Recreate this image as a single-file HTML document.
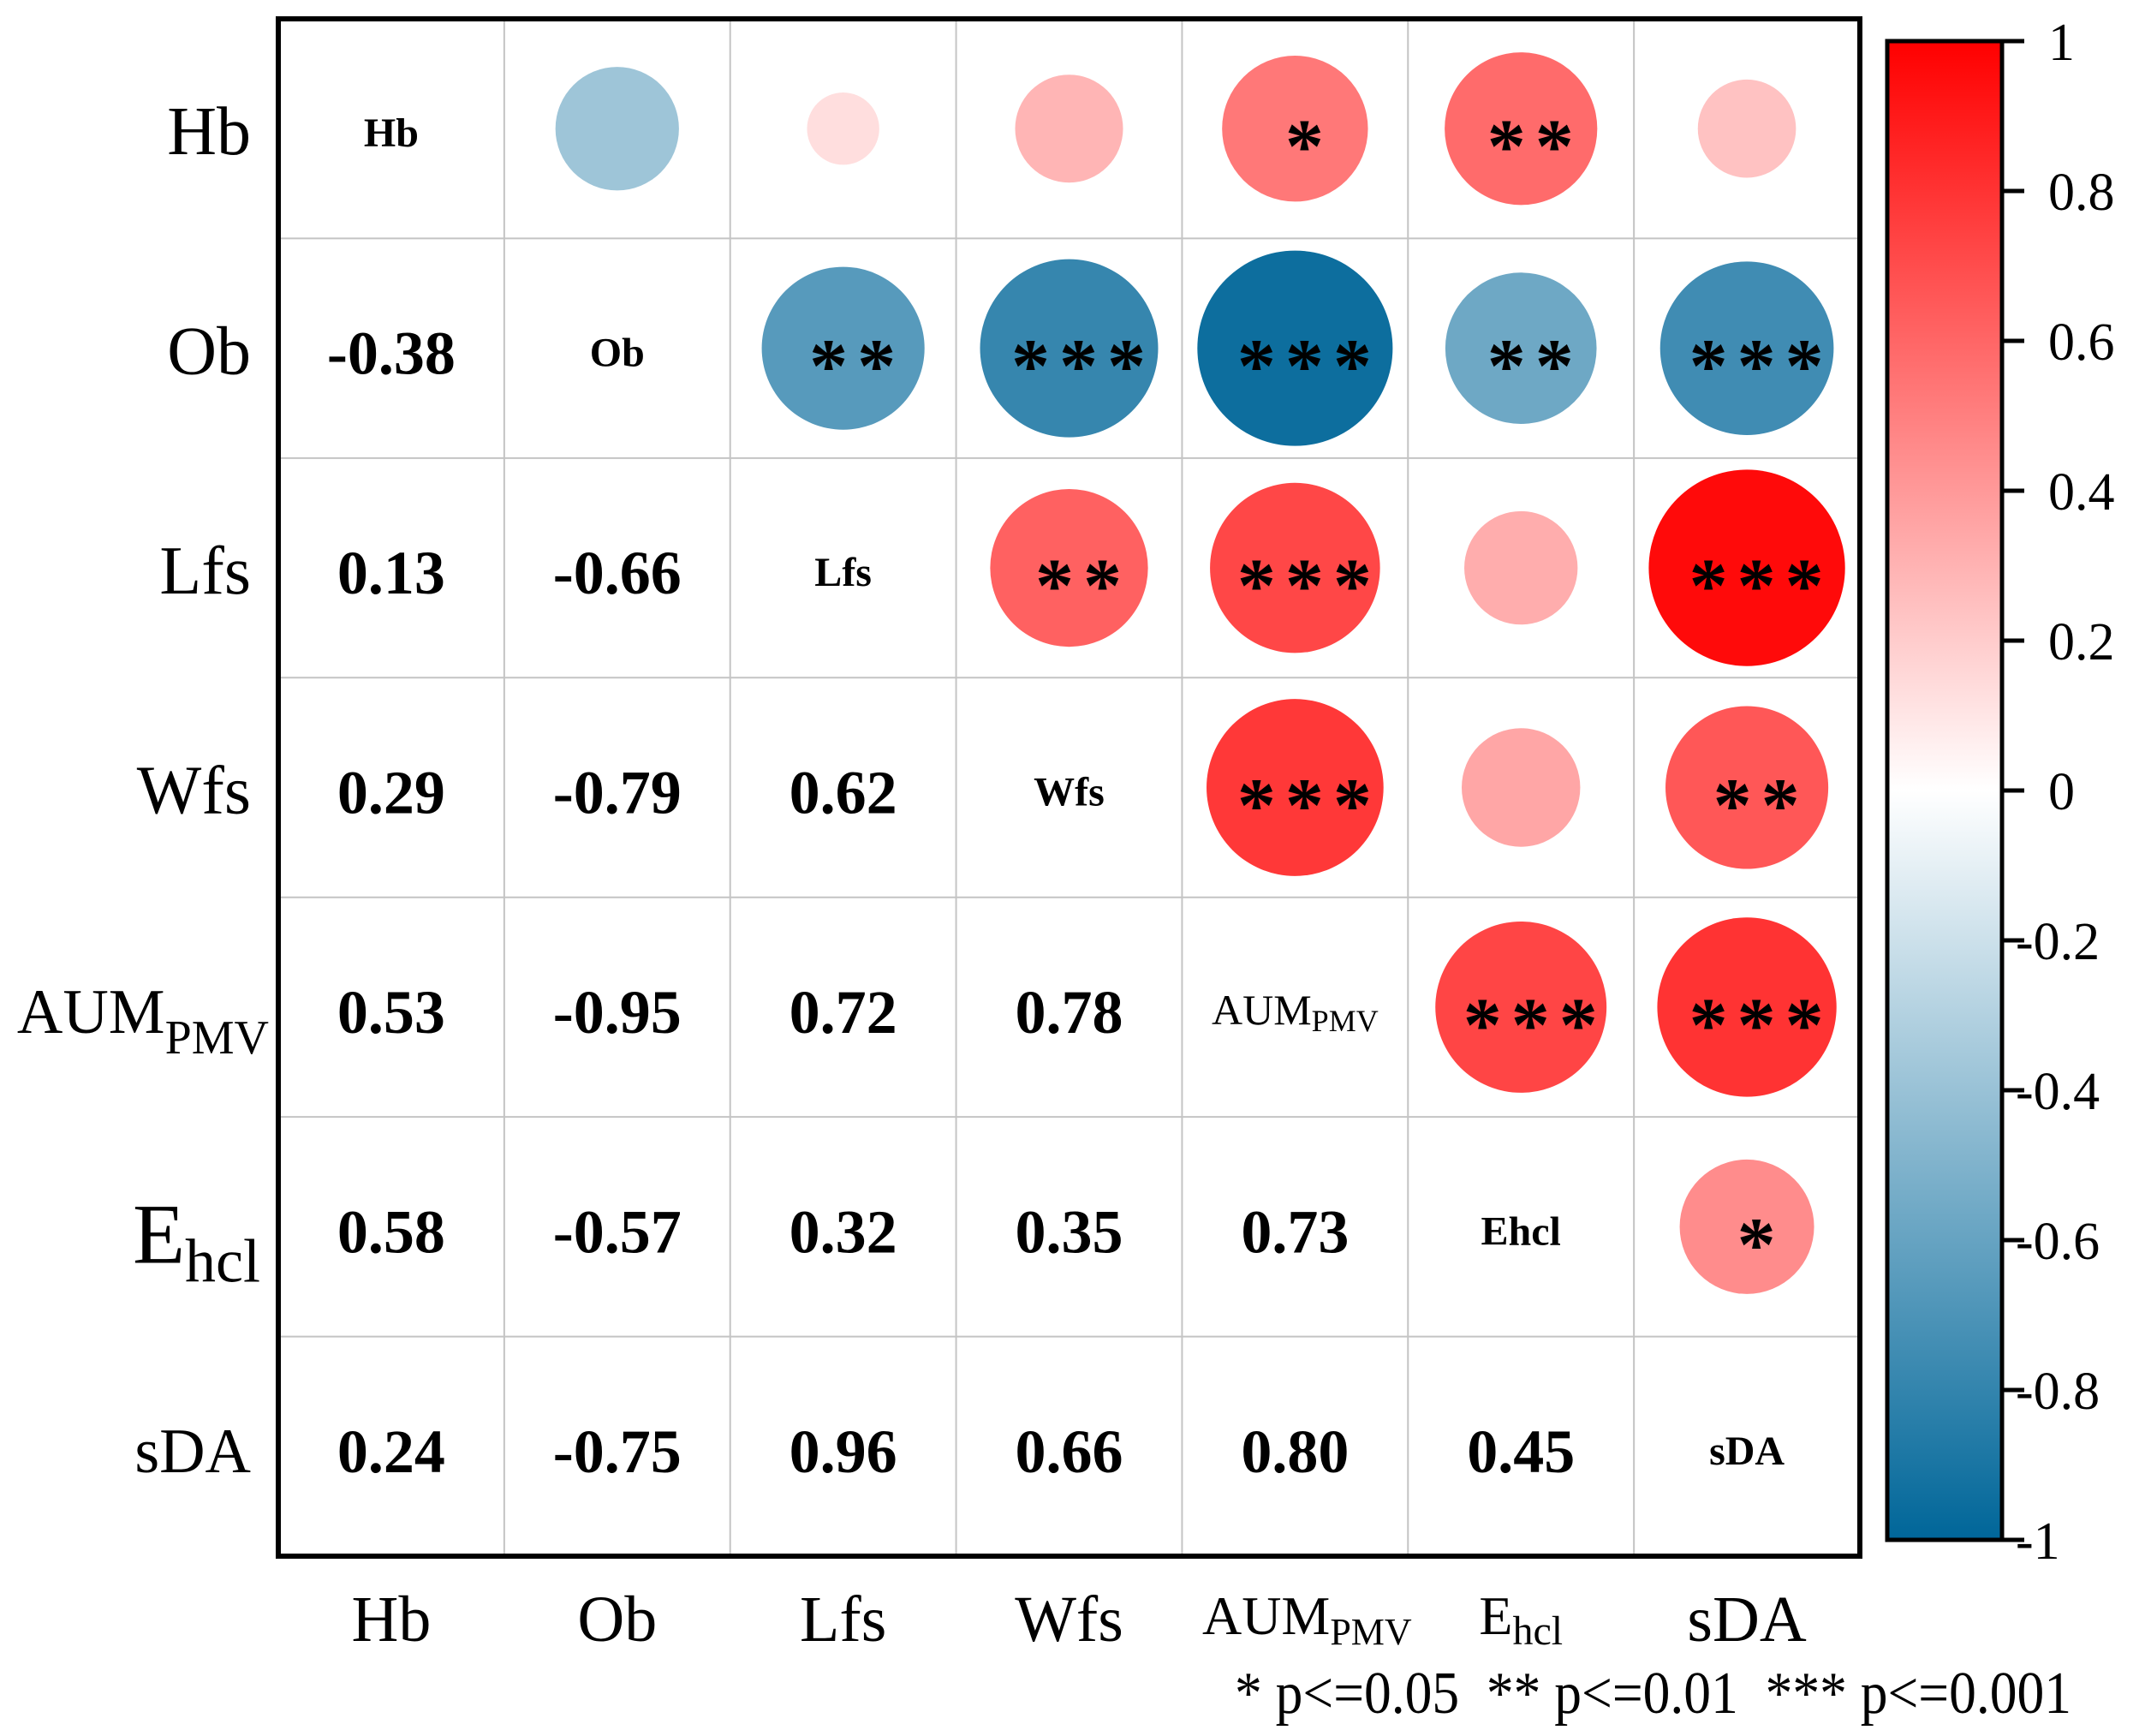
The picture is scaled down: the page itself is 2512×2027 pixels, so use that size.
<!DOCTYPE html>
<html><head><meta charset="utf-8"><style>
html,body{margin:0;padding:0;background:#fff}
svg{display:block}
text{font-family:"Liberation Serif","Times New Roman",serif}
</style></head><body>
<svg id="chart" width="2512" height="2027" viewBox="0 0 2512 2027" xmlns="http://www.w3.org/2000/svg">
<defs>
<linearGradient id="cbgrad" x1="0" y1="0" x2="0" y2="1">
<stop offset="0" stop-color="#ff0000"/>
<stop offset="0.5" stop-color="#ffffff"/>
<stop offset="1" stop-color="#006699"/>
</linearGradient>
</defs>
<g id="grid"></g>
<g id="marks"></g>
<rect x="325" y="22" width="1847" height="1795" fill="none" stroke="#000" stroke-width="6"/>
<g id="labels"></g>
<rect x="2204" y="48" width="134" height="1750" fill="url(#cbgrad)" stroke="#000" stroke-width="5"/>
<g id="cbticks"></g>
<text x="1442" y="2000" font-size="70" textLength="977" lengthAdjust="spacingAndGlyphs" style="white-space:pre">* p&lt;=0.05  ** p&lt;=0.01  *** p&lt;=0.001</text>
</svg>
<script>
const vars = ["Hb","Ob","Lfs","Wfs","AUM","Ehcl","sDA"];
const rowOb = [-0.38];
const rowLfs = [0.13,-0.66];
const rowWfs = [0.29,-0.79,0.62];
const rowAUM = [0.53,-0.95,0.72,0.78];
const rowEhcl = [0.58,-0.57,0.32,0.35,0.73];
const rowSDA = [0.24,-0.75,0.96,0.66,0.80,0.45];
// significance stars, upper triangle: [row, col, count]
const sigRow = [0,0,1,1,1,1,1,2,2,2,3,3,4,4,5];
const sigCol = [4,5,2,3,4,5,6,3,4,6,4,6,5,6,6];
const sigCount = [1,2,2,3,3,2,3,2,3,3,3,2,3,3,1];
const cbTicks = [1,0.8,0.6,0.4,0.2,0,-0.2,-0.4,-0.6,-0.8,-1];
const cbLabels = ["1","0.8","0.6","0.4","0.2","0","-0.2","-0.4","-0.6","-0.8","-1"];

const NS="http://www.w3.org/2000/svg";
const X0=325, Y0=22, CW=(2172-325)/7, CH=(1817-22)/7;
const cx = i => X0 + (i+0.5)*CW;
const cy = i => Y0 + (i+0.5)*CH;
const radius = r => 117*Math.sqrt(Math.abs(r));
const cbY = v => 48 + (1 - v)/2*1750;
function color(r){
  if(r>=0){const t=Math.min(1,r);return `rgb(255,${Math.round(255-255*t)},${Math.round(255-255*t)})`;}
  const t=Math.min(1,-r);return `rgb(${Math.round(255-255*t)},${Math.round(255-153*t)},${Math.round(255-102*t)})`;
}
function mk(tag,attrs,parent){const e=document.createElementNS(NS,tag);for(const k in attrs)e.setAttribute(k,attrs[k]);parent.appendChild(e);return e;}
const rows=[[],rowOb,rowLfs,rowWfs,rowAUM,rowEhcl,rowSDA];
function corr(i,j){if(i===j)return 1;return i>j?rows[i][j]:rows[j][i];}

const grid=document.getElementById('grid');
for(let k=1;k<7;k++){
  const l1=mk('line',{x1:X0+k*CW,y1:Y0,x2:X0+k*CW,y2:1817,stroke:'#c4c4c4','stroke-width':2},grid);
  
  
  const l2=mk('line',{x1:X0,y1:Y0+k*CH,x2:2172,y2:Y0+k*CH,stroke:'#c4c4c4','stroke-width':2},grid);
  
  
}
const marks=document.getElementById('marks');
for(let i=0;i<7;i++){for(let j=0;j<7;j++){
  if(i>j){
    const v=corr(i,j);
    const t=mk('text',{x:cx(j),y:cy(i)+30,'font-size':72,'font-weight':'bold','text-anchor':'middle'},marks);
    t.textContent=v.toFixed(2);
    
    
  } else if(i<j){
    const v=corr(i,j);
    const c=mk('circle',{cx:cx(j),cy:cy(i),r:radius(v),fill:color(v)},marks);
    
    
  }
}}
for(let k=0;k<sigRow.length;k++){
  const n=sigCount[k];
  for(let s=0;s<n;s++){
    const x=cx(sigCol[k])+11+(s-(n-1)/2)*56;
    const t=mk('text',{x:x,y:cy(sigRow[k])+51,'font-size':90,'font-weight':'bold','text-anchor':'middle'},marks);
    t.textContent='*';
    
    
  }
}
// diagonal labels
const diag=["Hb","Ob","Lfs","Wfs",null,"Ehcl","sDA"];
for(let i=0;i<7;i++){
  let t;
  if(i===4){
    t=mk('text',{x:cx(i),y:cy(i)+20,'font-size':50,'text-anchor':'middle'},marks);
    t.innerHTML='AUM<tspan font-size="36" dy="8">PMV</tspan>';
  } else {
    t=mk('text',{x:cx(i),y:cy(i)+21,'font-size':48,'font-weight':'bold','text-anchor':'middle'},marks);
    t.textContent=diag[i];
  }
  
  
}
// row labels
const labels=document.getElementById('labels');
const rowSimple={0:"Hb",1:"Ob",2:"Lfs",3:"Wfs"};
for(let i=0;i<4;i++){
  const t=mk('text',{x:293,y:cy(i)+30,'font-size':80,'text-anchor':'end'},labels);
  t.textContent=rowSimple[i];
  
  
}
let t=mk('text',{x:314,y:cy(4)+30,'font-size':74,'text-anchor':'end'},labels);
t.innerHTML='AUM<tspan font-size="56" dy="24">PMV</tspan>';


t=mk('text',{x:304,y:cy(5)+42,'font-size':100,'text-anchor':'end'},labels);
t.innerHTML='E<tspan font-size="72" dy="22">hcl</tspan>';


t=mk('text',{x:293,y:cy(6)+30,'font-size':74,'text-anchor':'end'},labels);
t.textContent='sDA';


// column labels
const colSimple={0:"Hb",1:"Ob",2:"Lfs",3:"Wfs",6:"sDA"};
for(const k in colSimple){
  const c=mk('text',{x:cx(+k),y:1916,'font-size':76,'text-anchor':'middle'},labels);
  c.textContent=colSimple[k];
  
  
}
t=mk('text',{x:cx(4)+14,y:1908,'font-size':64,'text-anchor':'middle'},labels);
t.innerHTML='AUM<tspan font-size="44" dy="12">PMV</tspan>';


t=mk('text',{x:cx(5),y:1908,'font-size':64,'text-anchor':'middle'},labels);
t.innerHTML='E<tspan font-size="48" dy="12">hcl</tspan>';


// colorbar ticks
const cbt=document.getElementById('cbticks');
for(let k=0;k<cbTicks.length;k++){
  const y=cbY(cbTicks[k]);
  const l=mk('line',{x1:2338,y1:y,x2:2364,y2:y,stroke:'#000','stroke-width':5},cbt);
  
  
  const lab=cbLabels[k];
  const x=lab.startsWith('-')?2354:2392;
  const tx=mk('text',{x:x,y:y+22,'font-size':62},cbt);
  tx.textContent=lab;
  
  
}
</script>
</body></html>
